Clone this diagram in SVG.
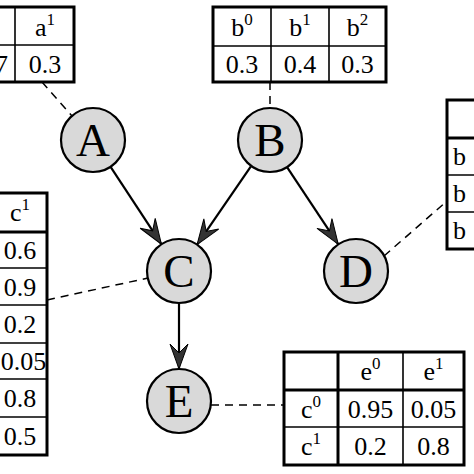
<svg xmlns="http://www.w3.org/2000/svg" width="474" height="474" viewBox="0 0 474 474">
<style>
.node circle{fill:#d9d9d9;stroke:#000;stroke-width:2.2}
.node text{font-family:"Liberation Serif","Times New Roman",serif;font-size:47px;text-anchor:middle;fill:#000}
.edge{stroke:#000;stroke-width:2.2;fill:none}
.dash{stroke:#000;stroke-width:1.5;fill:none;stroke-dasharray:8 6}
.outer{fill:#fff;stroke:#000;stroke-width:3}
.inner{stroke:#000;stroke-width:1.6}
.thick{stroke:#000;stroke-width:3}
.t{font-family:"Liberation Serif","Times New Roman",serif;font-size:26px;text-anchor:middle;fill:#000}
.sup{font-size:17px}
</style>
<defs>
<marker id="arr" viewBox="-26 -11 28 22" refX="0" refY="0" markerWidth="28" markerHeight="22" markerUnits="userSpaceOnUse" orient="auto">
<path d="M0,0 L-25,-9 L-16,0 L-25,9 Z" fill="#333" stroke="#000" stroke-width="1"/>
</marker>
</defs>
<g id="connectors">
<path class="edge" d="M110.6,166.8 L161.4,244.2" marker-end="url(#arr)"/>
<path class="edge" d="M250.9,166.4 L197.1,244.6" marker-end="url(#arr)"/>
<path class="edge" d="M286.7,166.7 L338.3,244.3" marker-end="url(#arr)"/>
<path class="edge" d="M179,303 L179,369" marker-end="url(#arr)"/>
<path class="dash" d="M42,82 L72,116"/>
<path class="dash" d="M270,82 L270,108"/>
<path class="dash" d="M384,256 L447,201"/>
<path class="dash" d="M47,300 L148,278"/>
<path class="dash" d="M211,405 L284,405"/>
</g>
<g id="table-A">
<rect class="outer" x="-50" y="7" width="124" height="75"/>
<line class="inner" x1="15" y1="7" x2="15" y2="82"/>
<line class="inner" x1="-50" y1="45" x2="74" y2="45"/>
<text class="t" x="45" y="36">a<tspan class="sup" dy="-11">1</tspan></text>
<text class="t" x="8" y="73" style="text-anchor:end">0.7</text>
<text class="t" x="45" y="73">0.3</text>
</g>
<g id="table-B">
<rect class="outer" x="213" y="7" width="173" height="75"/>
<line class="inner" x1="271" y1="7" x2="271" y2="82"/>
<line class="inner" x1="329" y1="7" x2="329" y2="82"/>
<line class="inner" x1="213" y1="46" x2="386" y2="46"/>
<text class="t" x="242" y="36">b<tspan class="sup" dy="-11">0</tspan></text>
<text class="t" x="300" y="36">b<tspan class="sup" dy="-11">1</tspan></text>
<text class="t" x="357.5" y="36">b<tspan class="sup" dy="-11">2</tspan></text>
<text class="t" x="242" y="73">0.3</text>
<text class="t" x="300" y="73">0.4</text>
<text class="t" x="357.5" y="73">0.3</text>
</g>
<g id="table-D">
<rect class="outer" x="447" y="100" width="60" height="149"/>
<line class="thick" x1="447" y1="138" x2="507" y2="138"/>
<line class="inner" x1="447" y1="175" x2="507" y2="175"/>
<line class="inner" x1="447" y1="212" x2="507" y2="212"/>
<text class="t" x="453" y="165" style="text-anchor:start">b</text>
<text class="t" x="453" y="202" style="text-anchor:start">b</text>
<text class="t" x="453" y="239" style="text-anchor:start">b</text>
</g>
<g id="table-C">
<rect class="outer" x="-60" y="193" width="107" height="262"/>
<line class="thick" x1="-60" y1="232" x2="47" y2="232"/>
<line class="inner" x1="-60" y1="268" x2="47" y2="268"/>
<line class="inner" x1="-60" y1="305" x2="47" y2="305"/>
<line class="inner" x1="-60" y1="343" x2="47" y2="343"/>
<line class="inner" x1="-60" y1="379" x2="47" y2="379"/>
<line class="inner" x1="-60" y1="417" x2="47" y2="417"/>
<text class="t" x="20" y="221">c<tspan class="sup" dy="-11">1</tspan></text>
<text class="t" x="20" y="259">0.6</text>
<text class="t" x="20" y="296">0.9</text>
<text class="t" x="20" y="333">0.2</text>
<text class="t" x="23.5" y="370">0.05</text>
<text class="t" x="20" y="407">0.8</text>
<text class="t" x="20" y="445">0.5</text>
</g>
<g id="table-E">
<rect class="outer" x="284" y="352" width="180" height="113"/>
<line class="thick" x1="338" y1="352" x2="338" y2="465"/>
<line class="inner" x1="403" y1="352" x2="403" y2="465"/>
<line class="thick" x1="284" y1="390" x2="464" y2="390"/>
<line class="inner" x1="284" y1="427" x2="464" y2="427"/>
<text class="t" x="370.5" y="380">e<tspan class="sup" dy="-11">0</tspan></text>
<text class="t" x="433.5" y="380">e<tspan class="sup" dy="-11">1</tspan></text>
<text class="t" x="311" y="418">c<tspan class="sup" dy="-11">0</tspan></text>
<text class="t" x="370.5" y="418">0.95</text>
<text class="t" x="433.5" y="418">0.05</text>
<text class="t" x="311" y="455">c<tspan class="sup" dy="-11">1</tspan></text>
<text class="t" x="370.5" y="455">0.2</text>
<text class="t" x="433.5" y="455">0.8</text>
</g>
<g id="node-A" class="node"><circle cx="93" cy="140" r="32"/><text x="93" y="156">A</text></g>
<g id="node-B" class="node"><circle cx="270" cy="140" r="32"/><text x="270" y="156">B</text></g>
<g id="node-C" class="node"><circle cx="179" cy="271" r="32"/><text x="179" y="287">C</text></g>
<g id="node-D" class="node"><circle cx="356" cy="271" r="32"/><text x="356" y="287">D</text></g>
<g id="node-E" class="node"><circle cx="179" cy="401" r="32"/><text x="179" y="417">E</text></g>
</svg>
